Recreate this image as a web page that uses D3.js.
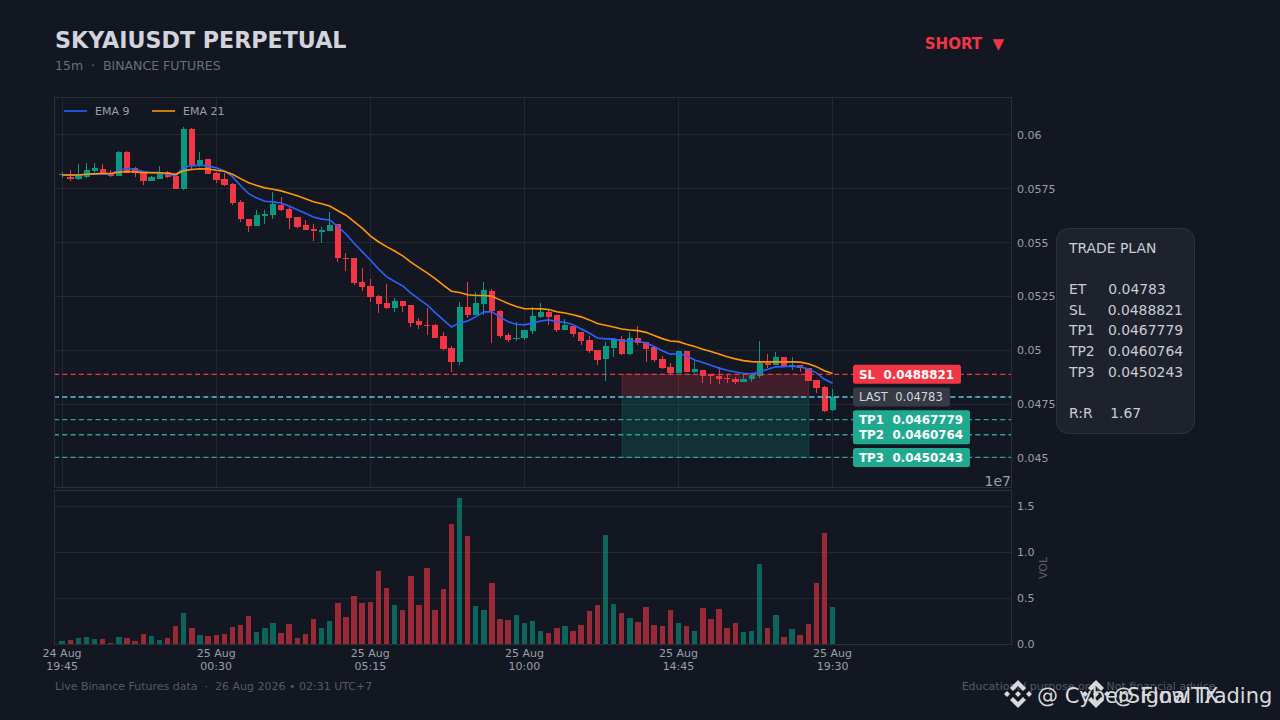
<!DOCTYPE html>
<html>
<head>
<meta charset="utf-8">
<script src="https://cdn.jsdelivr.net/npm/d3@7"></script>
<style>
  html, body { margin: 0; padding: 0; background: #131722; }
  svg { display: block; }
  text { font-family: "DejaVu Sans", sans-serif; white-space: pre; }
</style>
</head>
<body>
<svg id="chart" width="1280" height="720"></svg>
<script>
// candles, 15m, one entry per bar
const opens = [0.05813,0.05806,0.05796,0.05805,0.05831,0.05842,0.05822,0.05810,0.05921,0.05847,0.05822,0.05786,0.05796,0.05828,0.05808,0.05749,0.06028,0.05855,0.05887,0.05822,0.05796,0.05772,0.05689,0.05610,0.05577,0.05624,0.05628,0.05675,0.05656,0.05619,0.05582,0.05563,0.05550,0.05554,0.05587,0.05429,0.05429,0.05317,0.05299,0.05252,0.05220,0.05197,0.05229,0.05211,0.05136,0.05118,0.05118,0.05067,0.05011,0.04946,0.05201,0.05164,0.05215,0.05276,0.05183,0.05071,0.05053,0.05057,0.05090,0.05155,0.05178,0.05164,0.05094,0.05113,0.05085,0.05048,0.05002,0.04960,0.05011,0.05053,0.04983,0.05057,0.05039,0.05015,0.04960,0.04923,0.04895,0.04997,0.04899,0.04909,0.04890,0.04881,0.04872,0.04867,0.04853,0.04867,0.04881,0.04941,0.04932,0.04969,0.04927,0.04932,0.04918,0.04862,0.04830,0.04723];
const highs = [0.05827,0.05836,0.05864,0.05871,0.05871,0.05864,0.05836,0.05926,0.05926,0.05851,0.05830,0.05810,0.05855,0.05833,0.05814,0.06036,0.06031,0.05920,0.05887,0.05827,0.05822,0.05777,0.05697,0.05610,0.05653,0.05652,0.05734,0.05713,0.05670,0.05619,0.05604,0.05585,0.05573,0.05641,0.05587,0.05452,0.05429,0.05382,0.05331,0.05257,0.05308,0.05243,0.05229,0.05211,0.05150,0.05197,0.05122,0.05085,0.05020,0.05224,0.05317,0.05271,0.05317,0.05285,0.05187,0.05080,0.05132,0.05094,0.05201,0.05220,0.05192,0.05164,0.05145,0.05113,0.05085,0.05067,0.05002,0.05039,0.05053,0.05067,0.05085,0.05113,0.05039,0.05015,0.04974,0.04941,0.04997,0.04997,0.04950,0.04909,0.04890,0.04923,0.04885,0.04876,0.04890,0.04885,0.05043,0.04983,0.04992,0.04969,0.04969,0.04932,0.04918,0.04862,0.04834,0.04820];
const lows = [0.05799,0.05788,0.05790,0.05802,0.05824,0.05814,0.05806,0.05810,0.05822,0.05806,0.05769,0.05786,0.05796,0.05802,0.05748,0.05743,0.05843,0.05850,0.05819,0.05776,0.05765,0.05676,0.05597,0.05551,0.05577,0.05585,0.05609,0.05647,0.05563,0.05570,0.05557,0.05508,0.05498,0.05554,0.05410,0.05368,0.05303,0.05276,0.05224,0.05173,0.05192,0.05178,0.05178,0.05108,0.05099,0.05071,0.05057,0.05002,0.04899,0.04932,0.05150,0.05164,0.05164,0.05034,0.05057,0.05039,0.05043,0.05048,0.05076,0.05150,0.05118,0.05085,0.05094,0.05062,0.05025,0.04988,0.04932,0.04858,0.04969,0.04978,0.04978,0.05025,0.04946,0.04946,0.04913,0.04890,0.04895,0.04899,0.04895,0.04848,0.04844,0.04844,0.04848,0.04844,0.04853,0.04853,0.04872,0.04918,0.04932,0.04927,0.04909,0.04899,0.04858,0.04802,0.04714,0.04718];
const closes = [0.05817,0.05796,0.05814,0.05837,0.05847,0.05822,0.05810,0.05921,0.05822,0.05822,0.05786,0.05805,0.05822,0.05805,0.05749,0.06028,0.05859,0.05883,0.05819,0.05791,0.05768,0.05683,0.05610,0.05577,0.05628,0.05633,0.05680,0.05652,0.05615,0.05573,0.05559,0.05554,0.05559,0.05582,0.05429,0.05424,0.05313,0.05294,0.05248,0.05215,0.05197,0.05229,0.05206,0.05127,0.05118,0.05113,0.05057,0.05006,0.04946,0.05201,0.05164,0.05220,0.05280,0.05183,0.05067,0.05048,0.05057,0.05094,0.05159,0.05178,0.05155,0.05094,0.05118,0.05076,0.05043,0.04997,0.04955,0.05020,0.05053,0.04983,0.05057,0.05034,0.05006,0.04955,0.04918,0.04895,0.04997,0.04899,0.04913,0.04881,0.04881,0.04867,0.04867,0.04853,0.04867,0.04885,0.04941,0.04932,0.04969,0.04927,0.04932,0.04918,0.04858,0.04825,0.04718,0.04783];

// volume in units of 1e7
const volumes = [0.033,0.043,0.065,0.076,0.054,0.054,0.011,0.076,0.065,0.033,0.109,0.087,0.043,0.065,0.196,0.337,0.174,0.098,0.087,0.098,0.109,0.185,0.207,0.304,0.13,0.174,0.228,0.12,0.217,0.065,0.109,0.272,0.174,0.25,0.446,0.293,0.522,0.446,0.457,0.793,0.609,0.424,0.37,0.739,0.424,0.826,0.37,0.598,1.304,1.587,1.174,0.413,0.37,0.663,0.272,0.261,0.315,0.228,0.25,0.141,0.12,0.174,0.196,0.141,0.207,0.359,0.424,1.185,0.435,0.337,0.283,0.239,0.402,0.207,0.196,0.37,0.228,0.196,0.141,0.391,0.272,0.38,0.174,0.228,0.13,0.141,0.87,0.174,0.315,0.076,0.163,0.098,0.217,0.663,1.207,0.402];

const ema9 = [0.05814,0.05813,0.05814,0.05816,0.05819,0.05819,0.05817,0.05837,0.05843,0.05839,0.05830,0.05825,0.05825,0.05817,0.05810,0.05851,0.05856,0.05859,0.05856,0.05847,0.05833,0.05806,0.05765,0.05727,0.05707,0.05692,0.05689,0.05684,0.05670,0.05652,0.05636,0.05619,0.05609,0.05605,0.05574,0.05540,0.05497,0.05458,0.05419,0.05378,0.05342,0.05319,0.05299,0.05265,0.05237,0.05211,0.05175,0.05141,0.05108,0.05127,0.05136,0.05155,0.05178,0.05178,0.05155,0.05132,0.05121,0.05118,0.05126,0.05136,0.05141,0.05132,0.05130,0.05119,0.05099,0.05080,0.05057,0.05053,0.05053,0.05043,0.05043,0.05041,0.05035,0.05017,0.04998,0.04982,0.04984,0.04974,0.04955,0.04943,0.04930,0.04917,0.04907,0.04899,0.04893,0.04891,0.04899,0.04912,0.04923,0.04924,0.04926,0.04923,0.04913,0.04895,0.04865,0.04847];
const ema21 = [0.05814,0.05814,0.05814,0.05817,0.05819,0.05821,0.05821,0.05827,0.05830,0.05828,0.05825,0.05824,0.05824,0.05822,0.05817,0.05834,0.05839,0.05843,0.05842,0.05836,0.05831,0.05817,0.05797,0.05778,0.05765,0.05754,0.05748,0.05740,0.05729,0.05717,0.05704,0.05690,0.05680,0.05670,0.05648,0.05627,0.05597,0.05567,0.05531,0.05504,0.05481,0.05461,0.05438,0.05409,0.05384,0.05359,0.05333,0.05303,0.05274,0.05268,0.05258,0.05254,0.05254,0.05251,0.05234,0.05217,0.05203,0.05193,0.05193,0.05192,0.05189,0.05179,0.05173,0.05165,0.05155,0.05141,0.05124,0.05116,0.05108,0.05099,0.05094,0.05091,0.05083,0.05068,0.05054,0.05043,0.05040,0.05028,0.05017,0.05005,0.04994,0.04983,0.04970,0.04960,0.04952,0.04947,0.04946,0.04946,0.04946,0.04946,0.04946,0.04945,0.04937,0.04924,0.04905,0.04892];

const priceTicks = [0.06, 0.0575, 0.055, 0.0525, 0.05, 0.0475, 0.045];
const volTicks = [0, 0.5, 1, 1.5];
const timeTickIdx = [0, 19, 38, 57, 76, 95];
const timeTickLabels = [["24 Aug","19:45"],["25 Aug","00:30"],["25 Aug","05:15"],["25 Aug","10:00"],["25 Aug","14:45"],["25 Aug","19:30"]];

const entry = 0.04783, stop = 0.0488821;
const targets = [0.0467779, 0.0460764, 0.0450243];
const zoneIdx = [69, 92];

const planLines = ["TRADE PLAN", "", "ET     0.04783", "SL     0.0488821", "TP1   0.0467779", "TP2   0.0460764", "TP3   0.0450243", "", "R:R    1.67"];

const col = { bg: "#131722", grid: "#232733", spine: "#2a2e39", up: "#089981", down: "#f23645", tick: "#9a9fa9",
  blue: "#2962ff", orange: "#ff9800", last: "#4fc3f7", title: "#d1d4dc" };

const svg = d3.select("#chart");
svg.append("rect").attr("width", 1280).attr("height", 720).attr("fill", col.bg);

const x = d3.scaleLinear().domain([-1, 117]).range([54, 1011]);
const y = d3.scaleLinear().domain([0.04365, 0.06176]).range([487, 97]);
const yVol = d3.scaleLinear().domain([0, 1.674]).range([644, 490]);

// grid
const grid = svg.append("g").attr("stroke", col.grid).attr("stroke-width", 1).attr("shape-rendering", "crispEdges");
grid.selectAll(".gy").data(priceTicks).join("line")
  .attr("x1", 54).attr("x2", 1011).attr("y1", d => y(d)).attr("y2", d => y(d));
grid.selectAll(".gx").data(timeTickIdx).join("line")
  .attr("x1", d => x(d)).attr("x2", d => x(d)).attr("y1", 97).attr("y2", 487);
grid.selectAll(".gv").data(volTicks.slice(1)).join("line")
  .attr("x1", 54).attr("x2", 1011).attr("y1", d => yVol(d)).attr("y2", d => yVol(d));

// trade zones
const zones = svg.append("g").attr("stroke-opacity", 0.25);
zones.append("rect").attr("x", x(zoneIdx[0]) + 0.5).attr("width", x(zoneIdx[1]) - x(zoneIdx[0]))
  .attr("y", y(stop)).attr("height", y(entry) - y(stop)).attr("fill", col.down).attr("fill-opacity", 0.2).attr("stroke", col.down);
zones.append("rect").attr("x", x(zoneIdx[0]) + 0.5).attr("width", x(zoneIdx[1]) - x(zoneIdx[0]))
  .attr("y", y(entry)).attr("height", y(targets[2]) - y(entry)).attr("fill", col.up).attr("fill-opacity", 0.2).attr("stroke", col.up);

// candles
const idx = d3.range(closes.length);
const colorOf = i => closes[i] >= opens[i] ? col.up : col.down;
const candles = svg.append("g").attr("shape-rendering", "crispEdges");
candles.selectAll(".wick").data(idx).join("line")
  .attr("x1", i => x(i)).attr("x2", i => x(i)).attr("y1", i => y(highs[i])).attr("y2", i => y(lows[i]))
  .attr("stroke", colorOf).attr("stroke-width", 1);
candles.selectAll(".body").data(idx).join("rect")
  .attr("x", i => x(i) - 2.9).attr("width", 6.2)
  .attr("y", i => y(Math.max(opens[i], closes[i])))
  .attr("height", i => Math.max(1, Math.abs(y(opens[i]) - y(closes[i]))))
  .attr("fill", colorOf);

// ema lines
const emaLine = d3.line().x((d, i) => x(i)).y(d => y(d));
svg.append("path").attr("d", emaLine(ema9)).attr("fill", "none").attr("stroke", col.blue).attr("stroke-width", 1.6);
svg.append("path").attr("d", emaLine(ema21)).attr("fill", "none").attr("stroke", col.orange).attr("stroke-width", 1.6);

// level lines
const levels = [
  { v: stop, c: col.down, dash: "5,3.3" },
  { v: entry, c: col.last, dash: "5,3.3" },
  { v: targets[0], c: "#26a69a", dash: "5,3.3" },
  { v: targets[1], c: "#26a69a", dash: "5,3.3" },
  { v: targets[2], c: "#26a69a", dash: "5,3.3" }
];
svg.append("g").selectAll("line").data(levels).join("line")
  .attr("x1", 54).attr("x2", 1011).attr("y1", d => y(d.v)).attr("y2", d => y(d.v))
  .attr("stroke", d => d.c).attr("stroke-width", 1.3).attr("stroke-dasharray", d => d.dash);
// thin dotted line sits on top of the last price line
svg.append("line").attr("x1", 54).attr("x2", 1011).attr("y1", y(entry)).attr("y2", y(entry))
  .attr("stroke", "#e8edf2").attr("stroke-opacity", 0.3).attr("stroke-width", 0.8).attr("stroke-dasharray", "1,3");

// pills
const pills = [
  { t: "SL  0.0488821", yy: stop, w: 108, f: col.down, bold: true },
  { t: "LAST  0.04783", yy: entry, w: 97, f: "#363a45", bold: false },
  { t: "TP1  0.0467779", yy: targets[0], w: 117, f: "#1fa98f", bold: true },
  { t: "TP2  0.0460764", yy: targets[1], w: 117, f: "#1fa98f", bold: true },
  { t: "TP3  0.0450243", yy: targets[2], w: 117, f: "#1fa98f", bold: true }
];
const pillG = svg.append("g");
pillG.selectAll("rect").data(pills).join("rect")
  .attr("x", 853).attr("y", d => y(d.yy) - 9.5).attr("width", d => d.w).attr("height", 19).attr("rx", 2.5)
  .attr("fill", d => d.f);
pillG.selectAll("text").data(pills).join("text")
  .attr("x", 859).attr("y", d => y(d.yy) + 4.3).attr("fill", d => d.bold ? "#fff" : "#d5d7dc")
  .attr("font-size", d => d.bold ? 11.9 : 11.5).attr("font-weight", d => d.bold ? 700 : 400).attr("xml:space", "preserve").text(d => d.t);

// volume
svg.append("g").attr("shape-rendering", "crispEdges").selectAll("rect").data(idx).join("rect")
  .attr("x", i => x(i) - 2.7).attr("width", 5.4)
  .attr("y", i => yVol(volumes[i])).attr("height", i => yVol(0) - yVol(volumes[i]))
  .attr("fill", colorOf).attr("fill-opacity", 0.6);

// panel frames
[[54, 97, 957, 390], [54, 490, 957, 154]].forEach(f => {
  svg.append("rect").attr("x", f[0]).attr("y", f[1]).attr("width", f[2]).attr("height", f[3])
    .attr("fill", "none").attr("stroke", col.spine).attr("shape-rendering", "crispEdges");
});

// axes
const axisY = d3.axisRight(y).tickValues(priceTicks).tickSize(0).tickPadding(6).tickFormat(d => String(+d.toFixed(4)));
const axisV = d3.axisRight(yVol).tickValues(volTicks).tickSize(0).tickPadding(6).tickFormat(d3.format(".1f"));
const gy = svg.append("g").attr("transform", "translate(1011,0)").call(axisY);
const gv = svg.append("g").attr("transform", "translate(1011,0)").call(axisV);
[gy, gv].forEach(g => {
  g.select(".domain").remove();
  g.selectAll("text").attr("fill", col.tick).attr("font-size", 11).attr("font-family", "DejaVu Sans");
});
const gt = svg.append("g").selectAll("text").data(timeTickIdx).join("text")
  .attr("text-anchor", "middle").attr("fill", col.tick).attr("font-size", 11);
gt.append("tspan").attr("x", d => x(d)).attr("y", 657).text((d, i) => timeTickLabels[i][0]);
gt.append("tspan").attr("x", d => x(d)).attr("y", 670).text((d, i) => timeTickLabels[i][1]);

// legend
[[64, "EMA 9", col.blue], [152, "EMA 21", col.orange]].forEach(l => {
  svg.append("line").attr("x1", l[0]).attr("x2", l[0] + 23).attr("y1", 111).attr("y2", 111)
    .attr("stroke", l[2]).attr("stroke-width", 1.6);
  svg.append("text").attr("x", l[0] + 31).attr("y", 115).attr("fill", "#9a9fa9").attr("font-size", 11).text(l[1]);
});

// titles
svg.append("text").attr("x", 55).attr("y", 48).attr("fill", col.title).attr("font-size", 22.2).attr("font-weight", 700).text("SKYAIUSDT PERPETUAL");
svg.append("text").attr("x", 55).attr("y", 70).attr("fill", "#6a6e78").attr("font-size", 12.5).attr("xml:space", "preserve").text("15m  ·  BINANCE FUTURES");
svg.append("text").attr("x", 1004).attr("y", 48.5).attr("text-anchor", "end").attr("fill", col.down).attr("font-size", 15).attr("font-weight", 700).attr("xml:space", "preserve").text("SHORT  ▼");
svg.append("text").attr("x", 1011).attr("y", 486).attr("text-anchor", "end").attr("fill", "#9a9fa9").attr("font-size", 14).text("1e7");
svg.append("text").attr("transform", "translate(1047,568) rotate(-90)").attr("text-anchor", "middle").attr("fill", "#5d616b").attr("font-size", 11).text("VOL");

// trade plan box
svg.append("rect").attr("x", 1056.5).attr("y", 228.5).attr("width", 138).attr("height", 205).attr("rx", 12)
  .attr("fill", "#1e222d").attr("stroke", "#2f3340");
svg.append("g").selectAll("text").data(planLines).join("text")
  .attr("x", 1069).attr("y", (d, i) => 252.5 + i * 20.7).attr("fill", "#c9ccd4").attr("font-size", 13.9)
  .attr("xml:space", "preserve").text(d => d);

// footer
svg.append("text").attr("x", 55).attr("y", 690).attr("fill", "#555964").attr("font-size", 11).attr("xml:space", "preserve")
  .text("Live Binance Futures data  ·  26 Aug 2026 • 02:31 UTC+7");
svg.append("text").attr("x", 1219).attr("y", 690).attr("text-anchor", "end").attr("fill", "#555964").attr("font-size", 11)
  .text("Educational purpose only. Not financial advice.");

// watermarks, the picture has two on top of each other
function watermark(cx, label, lx) {
  const g = svg.append("g").attr("fill", "#d8d9dc");
  const polys = [
    [[0,-14],[8,-6],[5,-3],[0,-8],[-5,-3],[-8,-6]],
    [[0,14],[8,6],[5,3],[0,8],[-5,3],[-8,6]],
    [[-14,0],[-11,-3],[-8,0],[-11,3]],
    [[14,0],[11,-3],[8,0],[11,3]],
    [[0,-3],[3,0],[0,3],[-3,0]]
  ];
  g.selectAll("polygon").data(polys).join("polygon")
    .attr("points", p => p.map(q => [cx + q[0], 694 + q[1]].join(",")).join(" "));
  svg.append("text").attr("x", lx).attr("y", 703).attr("fill", "#d8d9dc").attr("font-size", 21).attr("xml:space", "preserve").text(label);
}
watermark(1018, "@ CyberSignalTX", 1037);
watermark(1096, "@ Flow Trading", 1113);
</script>
</body>
</html>
